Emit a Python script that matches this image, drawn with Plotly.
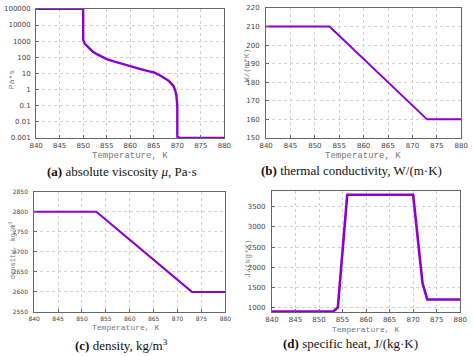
import plotly.graph_objects as go

# ---- data ----
visc_T = [840, 850, 850, 850.3, 850.9, 852, 853, 854, 855, 856.5, 858, 860, 862, 864, 865, 866, 867, 868, 868.7, 869.2, 869.6, 869.8, 870, 870, 870.3, 870.5, 880]
visc_mu = [100000, 100000, 1200, 700, 470, 230, 150, 105, 78, 55, 40, 27, 19, 13.5, 11.5, 8.5, 6, 3.8, 2.4, 1.6, 0.8, 0.4, 0.1, 0.0012, 0.0011, 0.001, 0.001]

cond_T = [840, 853, 873, 880]
cond_k = [210, 210, 160, 160]

dens_T = [840, 853, 873, 880]
dens_rho = [2800, 2800, 2600, 2600]

cp_T = [840, 853, 854, 856, 870, 872, 873, 880]
cp_val = [900, 900, 1000, 3800, 3800, 1600, 1200, 1200]

x_ticks = [840, 845, 850, 855, 860, 865, 870, 875, 880]
visc_ticks = [0.001, 0.01, 0.1, 1, 10, 100, 1000, 10000, 100000]
visc_ticklabels = ["0.001", "0.01", "0.1", "1", "10", "100", "1000", "10000", "100000"]

captions = ["<b>(a)</b> absolute viscosity <i>μ</i>, Pa·s",
            "<b>(b)</b> thermal conductivity, W/(m·K)",
            "<b>(c)</b> density, kg/m<sup>3</sup>",
            "<b>(d)</b> specific heat, J/(kg·K)"]
ytitles = ["Pa*s", "W/(m*K)", "density, kg/m<sup>3</sup>", "J/(kg*K)"]

W, H = 474, 356
LINE = "#8A00D2"

def px_x(a, b):
    return [a / W, b / W]

def px_y(top, bottom):
    return [1 - bottom / H, 1 - top / H]

# plot boxes in pixels (left, right, top, bottom)
boxes = [(30, 224, 5, 137), (267, 468, 4, 137), (28, 225, 192, 315), (273, 467, 191, 315)]

fig = go.Figure()
series = [(visc_T, visc_mu), (cond_T, cond_k), (dens_T, dens_rho), (cp_T, cp_val)]
widths = [2.4, 2.0, 2.0, 2.6]
for i, (xs, ys) in enumerate(series):
    sfx = "" if i == 0 else str(i + 1)
    fig.add_trace(go.Scatter(x=xs, y=ys, mode="lines", xaxis="x" + sfx, yaxis="y" + sfx,
                             line=dict(color=LINE, width=widths[i]), showlegend=False, hoverinfo="skip"))

tick_sizes = [7, 7, 6, 7]

def common(i, standoff):
    return dict(showline=True, mirror=True, linecolor="#666", linewidth=1,
                showgrid=True, gridcolor="#d0d0d0", griddash="dot", gridwidth=1,
                ticks="inside", ticklen=3, tickcolor="#666",
                tickfont=dict(family="DejaVu Sans", size=tick_sizes[i], color="#444"),
                zeroline=False, ticklabelstandoff=standoff)

yranges = [None, [150, 220], [2550, 2850], [890, 3900]]
ydtick = [None, 10, 50, 500]
layout = {}
for i, (l, r, t, b) in enumerate(boxes):
    sfx = "" if i == 0 else str(i + 1)
    layout["xaxis" + sfx] = dict(domain=px_x(l, r), anchor="y" + sfx, range=[840, 880],
                                 tickvals=x_ticks, **common(i, 1))
    if i == 0:
        layout["yaxis"] = dict(domain=px_y(t, b), anchor="x", type="log", range=[-3, 5],
                               tickvals=visc_ticks, ticktext=visc_ticklabels, **common(i, 3))
    else:
        layout["yaxis" + sfx] = dict(domain=px_y(t, b), anchor="x" + sfx, range=yranges[i],
                                     dtick=ydtick[i], **common(i, 4))

annotations = []
cap_pos = [(118, 171, "middle"), (355, 170, "middle"), (118, 349, "middle"), (354, 338.5, "top")]
xt_pos = [(127, 155), (367, 156), (122, 331), (369, 332.5)]
xt_size = [9, 9, 8, 8]
yt_pos = [(4, 77), (247, 63), (6, 252), (247, 261)]
for i in range(4):
    cx, cy, anc = cap_pos[i]
    annotations.append(dict(x=cx / W, y=1 - cy / H, xref="paper", yref="paper", text=captions[i],
                            showarrow=False, xanchor="center", yanchor=anc, borderpad=0,
                            font=dict(family="Liberation Serif", size=13, color="#111")))
    tx, ty = xt_pos[i]
    annotations.append(dict(x=tx / W, y=1 - ty / H, xref="paper", yref="paper", text="Temperature, K",
                            showarrow=False, xanchor="center", yanchor="middle", borderpad=0,
                            font=dict(family="Liberation Mono", size=xt_size[i], color="#777")))
    yx, yy = yt_pos[i]
    annotations.append(dict(x=yx / W, y=1 - yy / H, xref="paper", yref="paper", text=ytitles[i],
                            showarrow=False, xanchor="center", yanchor="middle", textangle=-90,
                            font=dict(family="Liberation Mono", size=8 if i != 2 else 7, color="#777")))

fig.update_layout(width=W, height=H, margin=dict(l=0, r=0, t=0, b=0),
                  paper_bgcolor="white", plot_bgcolor="white", annotations=annotations, **layout)
fig.write_html("out.html", config={"displayModeBar": False},
               post_script="document.body.style.margin='0';document.body.style.overflow='hidden';")
